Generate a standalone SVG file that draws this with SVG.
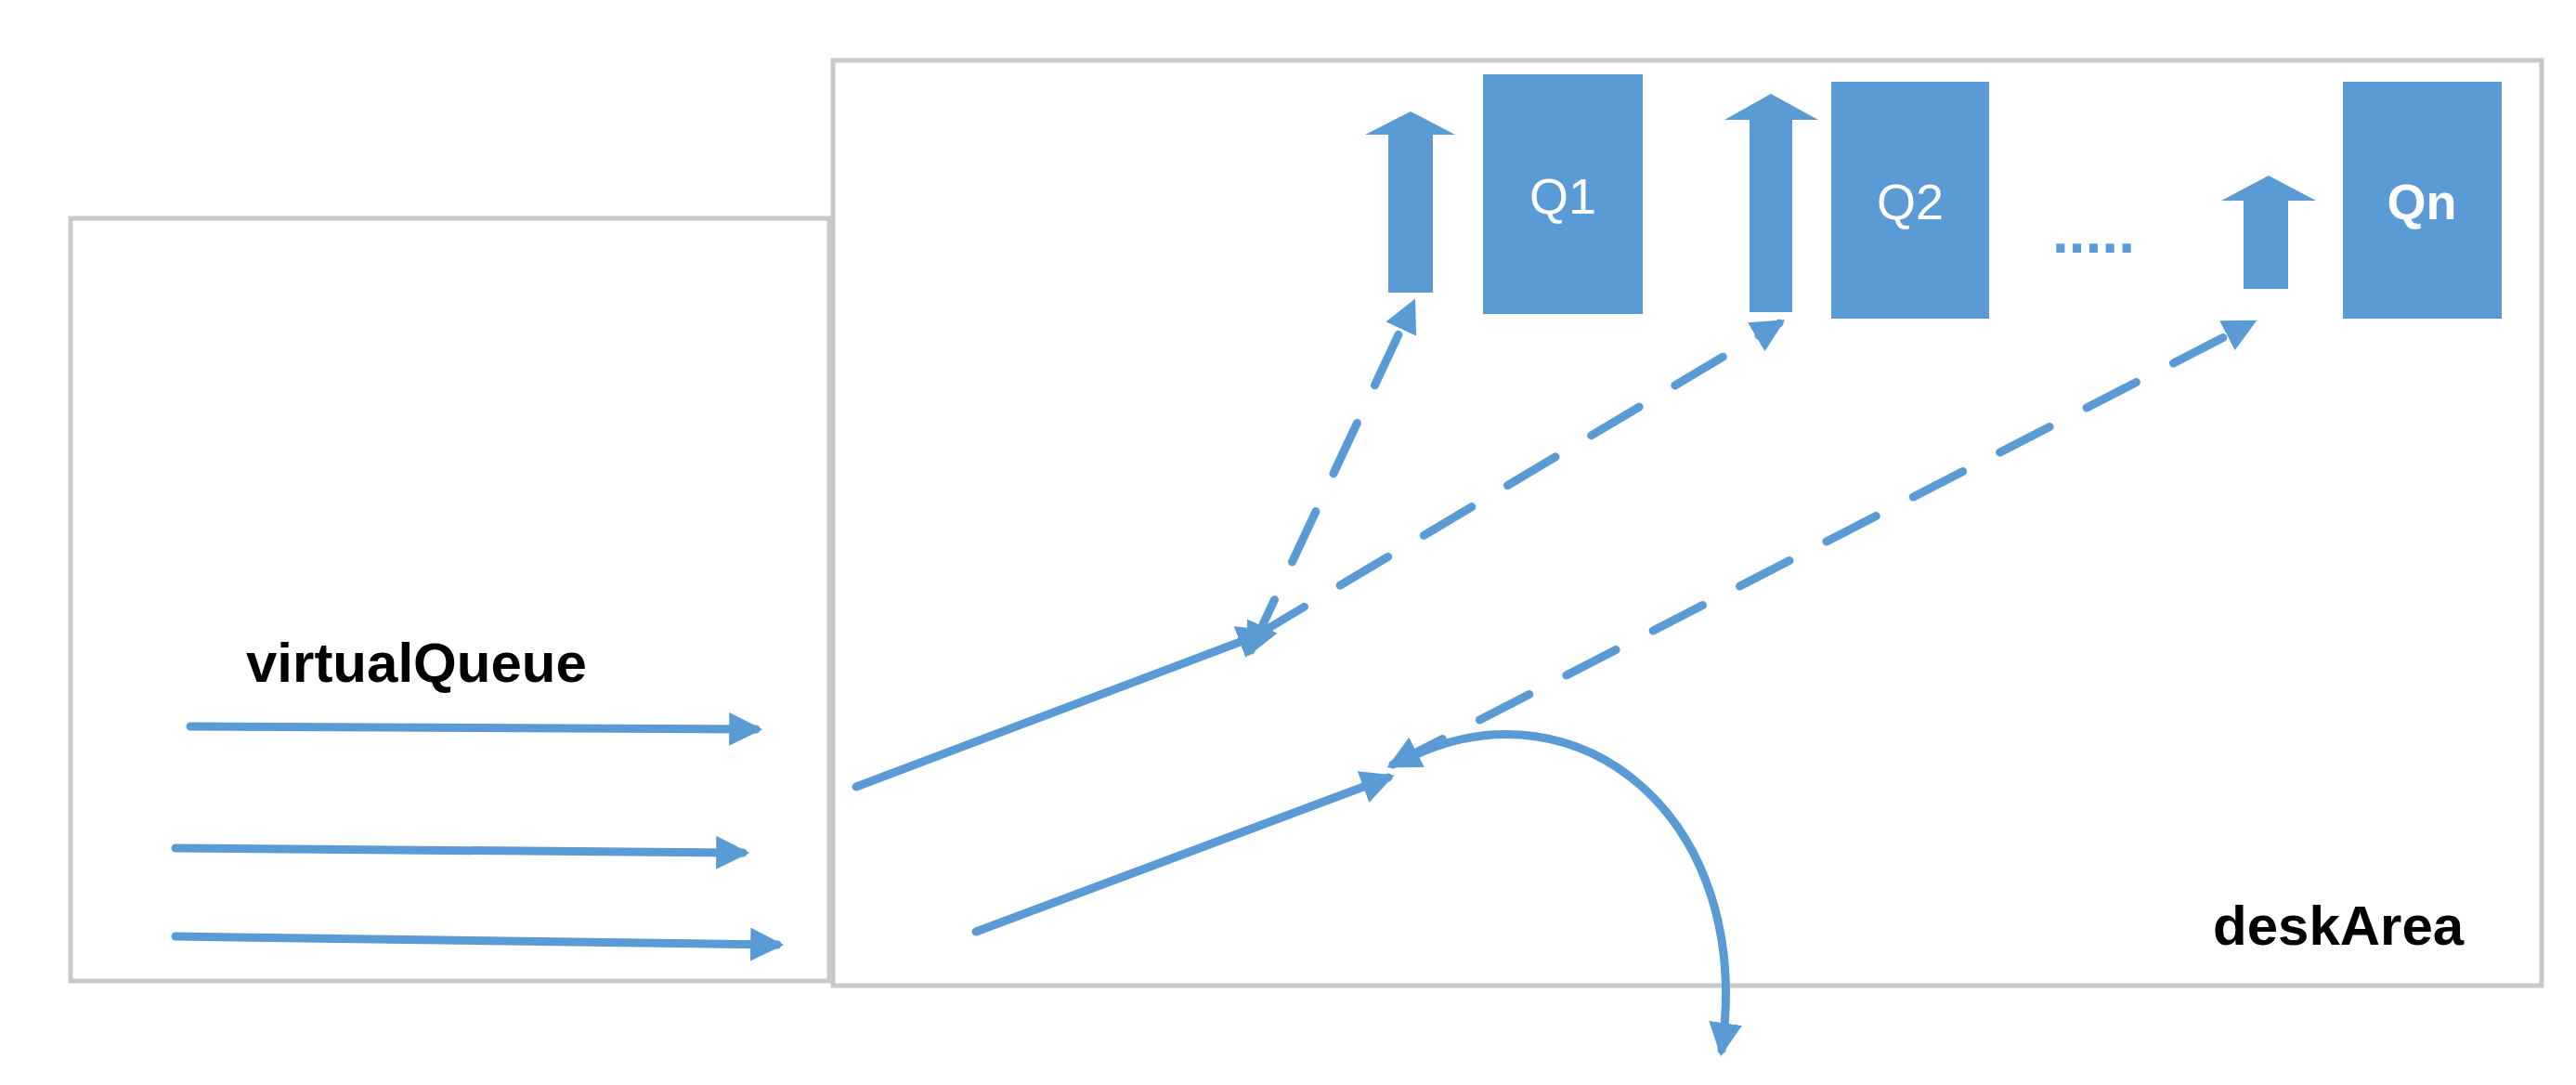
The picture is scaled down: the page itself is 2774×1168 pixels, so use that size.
<svg xmlns="http://www.w3.org/2000/svg" width="2774" height="1168" viewBox="0 0 2774 1168">
<style>
.box{fill:#fff;stroke:#C9C9C9;stroke-width:5}
.q{fill:#5B9BD5}
.ln{fill:none;stroke:#5B9BD5;stroke-width:9;stroke-linecap:round}
.ds{stroke-dasharray:60,45}
.qt{font-family:"Liberation Sans",Arial,sans-serif;font-size:54px;fill:#fff;text-anchor:middle}
.lb{font-family:"Liberation Sans",Arial,sans-serif;font-size:60px;font-weight:bold;fill:#000}
</style>
<defs>
<marker id="ah" viewBox="0 0 10 10" refX="8" refY="5" markerWidth="4" markerHeight="4" orient="auto-start-reverse" markerUnits="strokeWidth">
<path d="M0,0 L10,5 L0,10 z" fill="#5B9BD5"/>
</marker>
</defs>
<g id="virtualQueueArea"><rect class="box" x="76" y="235" width="817" height="821"/>
<text class="lb" x="265" y="734">virtualQueue</text></g>
<g id="deskArea"><rect class="box" x="897" y="65" width="1840" height="996"/>
<text class="lb" x="2383" y="1017">deskArea</text></g>
<g id="Q1"><rect class="q" x="1597" y="80" width="172" height="258"/><text class="qt" x="1683" y="230">Q1</text></g>
<g id="Q2"><rect class="q" x="1972" y="88" width="170" height="255"/><text class="qt" x="2057" y="236">Q2</text></g>
<g id="Qn"><rect class="q" x="2523" y="88" width="171" height="255"/><text class="qt" x="2608" y="236" font-weight="bold">Qn</text></g>
<g id="dots"><text x="2210" y="272" style="font-family:'Liberation Sans',Arial,sans-serif;font-size:64px;font-weight:bold;fill:#5B9BD5">.....</text></g>
<g id="up1"><path class="q" d="M1495,315 V145 H1470 L1519,120 L1567,145 H1543 V315 z"/></g>
<g id="up2"><path class="q" d="M1884,336 V129 H1857 L1907,101 L1958,129 H1930 V336 z"/></g>
<g id="upn"><path class="q" d="M2416,311 V216 H2392 L2443,189 L2494,216 H2464 V311 z"/></g>
<g id="connectors">
<path class="ln" d="M205,782 L814,785" marker-end="url(#ah)"/>
<path class="ln" d="M189,913 L800,918" marker-end="url(#ah)"/>
<path class="ln" d="M189,1008 L837,1017" marker-end="url(#ah)"/>
<path class="ln" d="M922,847 L1362,681" marker-end="url(#ah)"/>
<path class="ln" d="M1051,1003 L1495,837" marker-end="url(#ah)"/>
<path class="ln ds" d="M1347,700 L1521,328" marker-start="url(#ah)" marker-end="url(#ah)"/>
<path class="ln ds" d="M1353,684 L1916,348" marker-end="url(#ah)"/>
<path class="ln ds" d="M1500,823 L2424,348" marker-start="url(#ah)" marker-end="url(#ah)"/>
<path class="ln" d="M1521,814 C1700,730 1890,880 1854,1130" marker-end="url(#ah)"/>
</g>
</svg>
